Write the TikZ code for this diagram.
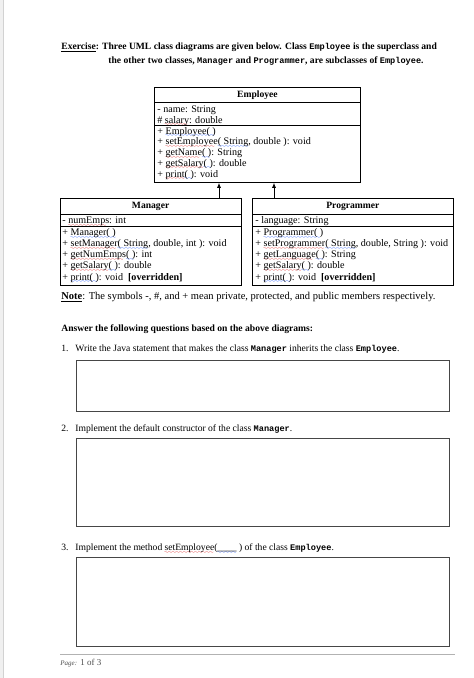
\documentclass[tikz,border=0pt]{standalone}
\usepackage{fontspec}
\setmainfont{Liberation Serif}
\setmonofont{Liberation Mono}
\usetikzlibrary{arrows.meta}

\font\sqwave=lasy6 at 4.5pt
\newcommand\wavy[2]{\setbox0=\hbox{#2}\rlap{\lower2.6pt\hbox to \wd0{\color{#1}\leaders\hbox{\sqwave\char58}\hfill}}\box0\relax}
\newcommand\redsq[1]{\wavy{red!85!black}{#1}}
\newcommand\bluesq[1]{\wavy{blue!75!cyan}{#1}}
\newcommand\cls[1]{{\fontsize{8.6}{11}\selectfont\ttfamily\bfseries #1}}

\tikzset{every picture/.style={line width=0.75pt}}
\tikzset{
  txt/.style={anchor=west, inner sep=0pt, text height=7pt, text depth=2pt,
    font=\fontsize{9.6}{11}\selectfont},
  boxtxt/.style={txt, font=\fontsize{10.1}{11}\selectfont},
  head/.style={inner sep=0pt, text height=7pt, text depth=2pt,
    font=\fontsize{9.6}{11}\selectfont\bfseries},
  umlbox/.style={draw, line width=0.8pt, inner sep=0pt},
  answerbox/.style={draw={rgb, 255:red, 70; green, 70; blue, 70}, line width=1.1pt, inner sep=0pt},
  inherit/.style={-{Latex[length=5pt,width=4pt]}, line width=0.8pt}
}

\begin{document}
\begin{tikzpicture}[x=1pt,y=1pt,yscale=-1,xscale=1]
	\path[use as bounding box] (0,0) rectangle (474,678);
	%Shape: Page edge
	\fill[gray!12] (0,0) rectangle (3,678);
	\draw[gray!35, line width=0.6pt] (3,0) -- (3,678);

	% Text Node
	\draw (61,47) node[txt, font=\fontsize{9.6}{11}\selectfont\bfseries] (titlea) {\underline{Exercise}: Three UML class diagrams are given below. Class \cls{Employee} is the superclass and};
	% Text Node
	\draw (108,61) node[txt, font=\fontsize{9.6}{11}\selectfont\bfseries] (titleb) {the other two classes, \cls{Manager} and \cls{Programmer}, are subclasses of \cls{Employee}.};

	%Shape: Rectangle
	\draw (154,86.5) node[umlbox, anchor=north west, minimum width=206, minimum height=95.5] (employee) {};
	\draw (employee.west |- 0,102) -- (employee.east |- 0,102);
	\draw (employee.west |- 0,125) -- (employee.east |- 0,125);
	%Shape: Rectangle
	\draw (60,198) node[umlbox, anchor=north west, minimum width=180.5, minimum height=87] (manager) {};
	\draw (manager.west |- 0,214.5) -- (manager.east |- 0,214.5);
	\draw (manager.west |- 0,226.7) -- (manager.east |- 0,226.7);
	%Shape: Rectangle
	\draw (252,198) node[umlbox, anchor=north west, minimum width=201, minimum height=87] (programmer) {};
	\draw (programmer.west |- 0,214.5) -- (programmer.east |- 0,214.5);
	\draw (programmer.west |- 0,226.7) -- (programmer.east |- 0,226.7);

	%Straight Lines
	\coordinate (mgrtop) at (219,198);
	\coordinate (prgtop) at (274,198);
	\draw[inherit] (mgrtop) -- (mgrtop |- employee.south);
	\draw[inherit] (prgtop) -- (prgtop |- employee.south);

	% Text Node
	\draw (employee.north) ++(0,8) node[head] (emphead) {Employee};
	\draw (157,109.5) node[boxtxt] (empname) {- name: String};
	\draw (157,120.5) node[boxtxt] (empsal) {\# \redsq{salary}: double};
	\draw (157,131.5) node[boxtxt] (empa) {+ \bluesq{Employee( )}};
	\draw (157,142.2) node[boxtxt] (empb) {+ \redsq{setEmployee}\bluesq{( String,} double ): void};
	\draw (157,152.9) node[boxtxt] (empc) {+ \redsq{getName}\bluesq{( )}: String};
	\draw (157,163.6) node[boxtxt] (empd) {+ \redsq{getSalary}\bluesq{( )}: double};
	\draw (157,174.6) node[boxtxt] (empe) {+ \redsq{print}\bluesq{( )}: void};

	% Text Node
	\draw (manager.north) ++(0,8) node[head] (mgrhead) {Manager};
	\draw (62,221.3) node[boxtxt] (mgrnum) {- \redsq{numEmps}: int};
	\draw (62,233) node[boxtxt] (mgra) {+ \bluesq{Manager( )}};
	\draw (62,244) node[boxtxt] (mgrb) {+ \redsq{setManager}\bluesq{( String,} double, int ): void};
	\draw (62,255.2) node[boxtxt] (mgrc) {+ \redsq{getNumEmps}\bluesq{( )}: int};
	\draw (62,266.4) node[boxtxt] (mgrd) {+ \redsq{getSalary}\bluesq{( )}: double};
	\draw (62,277.6) node[boxtxt] (mgre) {+ \bluesq{print( )}: void \ \textbf{[overridden]}};

	% Text Node
	\draw (programmer.north) ++(0,8) node[head] (prghead) {Programmer};
	\draw (255,221.3) node[boxtxt] (prglang) {- language: String};
	\draw (255,233) node[boxtxt] (prga) {+ \bluesq{Programmer( )}};
	\draw (255,244) node[boxtxt] (prgb) {+ \redsq{setProgrammer}\bluesq{( String,} double, String ): void};
	\draw (255,255.2) node[boxtxt] (prgc) {+ \redsq{getLanguage}\bluesq{( )}: String};
	\draw (255,266.4) node[boxtxt] (prgd) {+ \redsq{getSalary}\bluesq{( )}: double};
	\draw (255,277.6) node[boxtxt] (prge) {+ \bluesq{print( )}: void \ \textbf{[overridden]}};

	% Text Node
	\draw (61,297) node[txt, font=\fontsize{10.5}{11}\selectfont] (note) {\underline{\textbf{Note}}: The symbols -, \#, and + mean private, protected, and public members respectively.};
	\draw (61,329) node[txt, font=\fontsize{9.6}{11}\selectfont\bfseries] (answer) {Answer the following questions based on the above diagrams:};

	% Text Node
	\draw (61,349) node[txt] (qnuma) {1.};
	\draw (75,349) node[txt] (qa) {Write the Java statement that makes the class \cls{Manager} inherits the class \cls{Employee}.};
	%Shape: Rectangle
	\draw (76,360) node[answerbox, anchor=north west, minimum width=373, minimum height=51] (boxa) {};

	% Text Node
	\draw (61,429) node[txt] (qnumb) {2.};
	\draw (75,429) node[txt] (qb) {Implement the default constructor of the class \cls{Manager}.};
	%Shape: Rectangle
	\draw (76,437.5) node[answerbox, anchor=north west, minimum width=373, minimum height=88] (boxb) {};

	% Text Node
	\draw (61,548) node[txt] (qnumc) {3.};
	\draw (75,548) node[txt] (qc) {Implement the method \redsq{setEmployee}(\bluesq{\_\_\_\_}~) of the class \cls{Employee}.};
	%Shape: Rectangle
	\draw (76,557) node[answerbox, anchor=north west, minimum width=373, minimum height=89] (boxc) {};

	%Straight Lines
	\coordinate (footl) at (60,654);
	\coordinate (footr) at (455,654);
	\draw[gray!60, line width=0.9pt] (footl) -- (footr);
	% Text Node
	\draw (60,662.5) node[txt, text=gray!60!black] (pageno) {{\itshape\fontsize{7}{8}\selectfont Page:} {\fontsize{9}{10}\selectfont 1 of 3}};
\end{tikzpicture}
\end{document}
